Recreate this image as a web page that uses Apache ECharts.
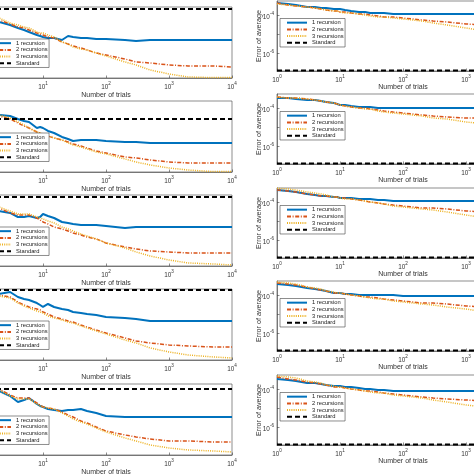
<!DOCTYPE html>
<html><head><meta charset="utf-8">
<script src="https://cdn.jsdelivr.net/npm/echarts@6/dist/echarts.min.js"></script>
<style>html,body{margin:0;padding:0;background:#fff}#c{width:474px;height:474px}</style>
</head><body><div id="c"></div>
<script>
// ---------------- data ----------------
const trials = [1,1.5,2,3,4,5,6,8,9,10,12,15,20,25,30,40,50,70,100,200,300,500,1000,2000,5000,10000];
const seriesNames = ['1 recursion','2 recursions','3 recursions','Standard'];
const xAxisName = 'Number of trials';
const yAxisName = 'Error of average';
const yLabelExponents = [-4, -6];

// left column
const L1_rec1 = [1.71e-4,1.34e-4,9.35e-5,6.50e-5,4.52e-5,3.54e-5,2.78e-5,1.93e-5,1.71e-5,1.52e-5,1.34e-5,1.34e-5,1.05e-5,1.71e-5,1.52e-5,1.34e-5,1.34e-5,1.19e-5,1.19e-5,1.05e-5,9.35e-6,1.05e-5,1.05e-5,1.05e-5,1.05e-5,1.05e-5];
const L1_rec2 = [1.93e-4,1.52e-4,1.19e-4,7.33e-5,5.10e-5,4.52e-5,3.54e-5,2.46e-5,2.18e-5,1.93e-5,1.52e-5,1.34e-5,8.28e-6,6.50e-6,5.10e-6,4.00e-6,3.14e-6,2.18e-6,1.71e-6,1.05e-6,7.33e-7,6.50e-7,5.10e-7,4.52e-7,4.52e-7,4.00e-7];
const L1_rec3 = [2.18e-4,1.71e-4,1.52e-4,8.28e-5,6.50e-5,5.10e-5,4.52e-5,2.78e-5,2.46e-5,2.46e-5,1.93e-5,1.52e-5,8.28e-6,6.50e-6,4.52e-6,3.54e-6,3.14e-6,2.18e-6,1.52e-6,7.33e-7,5.10e-7,2.78e-7,1.71e-7,1.19e-7,1.1e-7,1.1e-7];

const L2_rec1 = [1.34e-4,1.19e-4,1.05e-4,9.35e-5,6.50e-5,5.10e-5,4.52e-5,2.18e-5,2.46e-5,2.18e-5,1.52e-5,1.19e-5,7.33e-6,5.75e-6,4.52e-6,5.10e-6,5.10e-6,5.10e-6,4.52e-6,4.00e-6,4.00e-6,3.54e-6,3.54e-6,3.54e-6,3.54e-6,3.54e-6];
const L2_rec2 = [1.52e-4,1.19e-4,9.35e-5,6.50e-5,4.00e-5,2.78e-5,2.18e-5,1.34e-5,1.19e-5,1.05e-5,8.28e-6,6.50e-6,5.10e-6,4.00e-6,3.14e-6,2.46e-6,1.93e-6,1.34e-6,1.05e-6,6.50e-7,5.75e-7,4.52e-7,3.54e-7,3.14e-7,3.14e-7,3.14e-7];
const L2_rec3 = [1.52e-4,1.34e-4,1.05e-4,7.33e-5,4.52e-5,3.14e-5,2.18e-5,1.34e-5,1.19e-5,1.05e-5,8.28e-6,6.50e-6,5.10e-6,3.54e-6,2.78e-6,2.18e-6,1.71e-6,1.19e-6,9.35e-7,5.10e-7,3.54e-7,2.46e-7,1.71e-7,1.34e-7,1.1e-7,1.1e-7];

const L3_rec1 = [1.34e-4,1.05e-4,8.28e-5,6.50e-5,4.00e-5,4.00e-5,4.52e-5,3.54e-5,4.00e-5,5.75e-5,4.52e-5,3.54e-5,2.18e-5,1.93e-5,1.71e-5,1.52e-5,1.52e-5,1.52e-5,1.34e-5,1.05e-5,1.19e-5,1.19e-5,1.19e-5,1.19e-5,1.19e-5,1.19e-5];
const L3_rec2 = [1.93e-4,1.52e-4,1.19e-4,6.50e-5,5.10e-5,5.10e-5,5.10e-5,3.54e-5,2.78e-5,2.18e-5,1.71e-5,1.19e-5,9.35e-6,7.33e-6,5.75e-6,4.52e-6,3.54e-6,2.78e-6,1.71e-6,1.05e-6,8.28e-7,6.50e-7,5.75e-7,5.10e-7,5.10e-7,5.10e-7];
const L3_rec3 = [2.18e-4,1.71e-4,1.34e-4,8.28e-5,5.75e-5,5.75e-5,5.75e-5,4.00e-5,3.54e-5,3.14e-5,2.46e-5,1.93e-5,1.19e-5,9.35e-6,7.33e-6,5.10e-6,4.00e-6,2.78e-6,1.71e-6,9.35e-7,5.75e-7,3.54e-7,2.18e-7,1.52e-7,1.34e-7,1.19e-7];

const L4_rec1 = [2.46e-4,2.78e-4,3.14e-4,4.00e-4,2.18e-4,1.71e-4,1.52e-4,1.05e-4,8.28e-5,6.50e-5,9.35e-5,6.50e-5,5.10e-5,4.52e-5,3.54e-5,3.14e-5,2.78e-5,2.46e-5,1.93e-5,1.71e-5,1.52e-5,1.19e-5,1.19e-5,1.19e-5,1.19e-5,1.19e-5];
const L4_rec2 = [3.14e-4,3.14e-4,2.78e-4,2.18e-4,1.19e-4,8.28e-5,6.50e-5,5.10e-5,4.52e-5,3.54e-5,2.78e-5,1.93e-5,1.52e-5,1.19e-5,1.05e-5,7.33e-6,5.75e-6,4.00e-6,2.78e-6,1.52e-6,1.05e-6,8.28e-7,6.50e-7,5.75e-7,5.10e-7,5.10e-7];
const L4_rec3 = [3.14e-4,2.78e-4,2.46e-4,1.93e-4,1.05e-4,7.33e-5,5.75e-5,4.00e-5,3.54e-5,3.14e-5,2.18e-5,1.71e-5,1.34e-5,1.05e-5,9.35e-6,6.50e-6,5.10e-6,3.54e-6,2.46e-6,1.19e-6,8.28e-7,4.52e-7,2.78e-7,1.93e-7,1.52e-7,1.34e-7];

const L5_rec1 = [3.54e-4,3.14e-4,2.46e-4,1.34e-4,6.50e-5,8.28e-5,1.05e-4,5.10e-5,4.00e-5,3.54e-5,2.78e-5,2.46e-5,2.18e-5,2.46e-5,2.46e-5,2.78e-5,2.18e-5,1.71e-5,1.19e-5,1.05e-5,1.05e-5,1.05e-5,1.05e-5,1.05e-5,1.05e-5,1.05e-5];
const L5_rec2 = [4.00e-4,3.54e-4,3.14e-4,1.52e-4,1.05e-4,1.05e-4,1.05e-4,5.75e-5,4.52e-5,3.54e-5,3.14e-5,2.78e-5,1.93e-5,1.34e-5,1.05e-5,6.50e-6,5.10e-6,3.14e-6,1.93e-6,1.19e-6,9.35e-7,7.33e-7,5.75e-7,5.75e-7,5.10e-7,5.10e-7];
const L5_rec3 = [4.00e-4,3.54e-4,2.78e-4,1.34e-4,9.35e-5,9.35e-5,9.35e-5,5.10e-5,4.00e-5,3.54e-5,3.14e-5,2.78e-5,1.71e-5,1.19e-5,8.28e-6,5.75e-6,4.52e-6,2.78e-6,1.71e-6,8.28e-7,5.75e-7,3.54e-7,2.46e-7,1.93e-7,1.71e-7,1.52e-7];

const leftStandard = [4.52e-4, 6.50e-5, 4.52e-4, 5.10e-4, 3.14e-4];

// right column
const R1_rec1 = [4.52e-4,4.00e-4,3.54e-4,2.78e-4,2.78e-4,2.46e-4,2.46e-4,2.18e-4,2.18e-4,2.18e-4,1.93e-4,1.71e-4,1.52e-4,1.52e-4,1.34e-4,1.34e-4,1.34e-4,1.19e-4,1.19e-4,1.19e-4,1.19e-4,1.19e-4,1.19e-4,1.19e-4,1.19e-4,1.19e-4];
const R1_rec2 = [4.52e-4,3.54e-4,3.14e-4,2.78e-4,2.46e-4,2.18e-4,1.93e-4,1.71e-4,1.71e-4,1.52e-4,1.52e-4,1.34e-4,1.19e-4,1.19e-4,1.05e-4,9.35e-5,8.28e-5,8.28e-5,7.33e-5,5.75e-5,5.10e-5,4.52e-5,3.54e-5,3.14e-5,2.78e-5,2.46e-5];
const R1_rec3 = [4.00e-4,3.54e-4,3.14e-4,2.78e-4,2.46e-4,2.18e-4,1.93e-4,1.71e-4,1.71e-4,1.52e-4,1.34e-4,1.34e-4,1.19e-4,1.05e-4,9.35e-5,8.28e-5,8.28e-5,7.33e-5,6.50e-5,5.10e-5,4.00e-5,3.14e-5,2.18e-5,1.52e-5,1.19e-5,1.05e-5];

const R2_rec1 = [3.54e-4,3.54e-4,3.14e-4,2.78e-4,2.78e-4,2.46e-4,2.18e-4,1.93e-4,1.71e-4,1.52e-4,1.52e-4,1.34e-4,1.19e-4,1.19e-4,1.19e-4,1.05e-4,1.05e-4,1.05e-4,1.05e-4,1.05e-4,1.05e-4,1.05e-4,1.05e-4,1.05e-4,1.05e-4,1.05e-4];
const R2_rec2 = [4.00e-4,3.54e-4,3.54e-4,3.14e-4,2.78e-4,2.46e-4,2.18e-4,1.93e-4,1.71e-4,1.52e-4,1.34e-4,1.19e-4,1.05e-4,1.05e-4,9.35e-5,8.28e-5,7.33e-5,6.50e-5,5.75e-5,4.52e-5,4.00e-5,3.54e-5,3.14e-5,3.14e-5,2.78e-5,2.78e-5];
const R2_rec3 = [4.00e-4,3.54e-4,3.54e-4,3.14e-4,2.78e-4,2.46e-4,2.18e-4,1.93e-4,1.71e-4,1.52e-4,1.34e-4,1.19e-4,1.05e-4,9.35e-5,9.35e-5,7.33e-5,6.50e-5,5.75e-5,5.10e-5,4.00e-5,3.14e-5,2.78e-5,1.93e-5,1.52e-5,1.19e-5,1.05e-5];

const R3_rec1 = [4.52e-4,4.00e-4,3.54e-4,2.78e-4,2.46e-4,2.18e-4,2.18e-4,1.93e-4,1.93e-4,1.71e-4,1.71e-4,1.71e-4,1.52e-4,1.52e-4,1.52e-4,1.34e-4,1.34e-4,1.19e-4,1.19e-4,1.19e-4,1.19e-4,1.19e-4,1.19e-4,1.19e-4,1.19e-4,1.19e-4];
const R3_rec2 = [4.52e-4,4.00e-4,3.54e-4,2.78e-4,2.46e-4,2.18e-4,2.18e-4,1.93e-4,1.93e-4,1.71e-4,1.71e-4,1.52e-4,1.34e-4,1.19e-4,1.05e-4,9.35e-5,8.28e-5,7.33e-5,6.50e-5,5.10e-5,5.10e-5,4.52e-5,3.54e-5,3.14e-5,2.78e-5,2.78e-5];
const R3_rec3 = [5.6e-4,5.10e-4,4.52e-4,3.54e-4,3.14e-4,2.78e-4,2.46e-4,1.93e-4,1.93e-4,1.71e-4,1.52e-4,1.52e-4,1.34e-4,1.19e-4,1.05e-4,9.35e-5,8.28e-5,6.50e-5,5.75e-5,4.52e-5,4.00e-5,3.14e-5,2.18e-5,1.52e-5,1.19e-5,1.05e-5];

const R4_rec1 = [4.00e-4,3.54e-4,3.14e-4,2.46e-4,2.18e-4,1.93e-4,1.71e-4,1.34e-4,1.34e-4,1.34e-4,1.19e-4,1.19e-4,1.05e-4,1.05e-4,1.05e-4,1.05e-4,1.05e-4,1.05e-4,9.35e-5,9.35e-5,9.35e-5,9.35e-5,9.35e-5,9.35e-5,9.35e-5,9.35e-5];
const R4_rec2 = [4.52e-4,4.00e-4,3.54e-4,2.78e-4,2.18e-4,1.93e-4,1.71e-4,1.34e-4,1.34e-4,1.34e-4,1.19e-4,1.05e-4,9.35e-5,8.28e-5,8.28e-5,7.33e-5,6.50e-5,5.75e-5,5.10e-5,4.00e-5,4.00e-5,3.54e-5,2.78e-5,2.46e-5,2.46e-5,2.46e-5];
const R4_rec3 = [5.10e-4,4.52e-4,4.00e-4,2.78e-4,2.46e-4,2.18e-4,1.71e-4,1.52e-4,1.34e-4,1.34e-4,1.19e-4,1.05e-4,9.35e-5,8.28e-5,7.33e-5,6.50e-5,6.50e-5,5.10e-5,4.52e-5,3.54e-5,3.14e-5,2.46e-5,1.93e-5,1.34e-5,1.05e-5,9.35e-6];

const R5_rec1 = [3.54e-4,3.14e-4,2.78e-4,2.18e-4,2.18e-4,1.93e-4,1.71e-4,1.52e-4,1.52e-4,1.52e-4,1.34e-4,1.34e-4,1.19e-4,1.05e-4,1.05e-4,9.35e-5,9.35e-5,8.28e-5,8.28e-5,8.28e-5,8.28e-5,8.28e-5,8.28e-5,8.28e-5,8.28e-5,8.28e-5];
const R5_rec2 = [4.52e-4,3.54e-4,3.14e-4,2.46e-4,2.18e-4,1.93e-4,1.71e-4,1.34e-4,1.34e-4,1.34e-4,1.19e-4,1.05e-4,9.35e-5,8.28e-5,8.28e-5,7.33e-5,6.50e-5,5.75e-5,5.10e-5,4.00e-5,3.54e-5,3.14e-5,2.78e-5,2.46e-5,2.46e-5,2.18e-5];
const R5_rec3 = [5.10e-4,4.52e-4,4.00e-4,2.78e-4,2.46e-4,2.18e-4,1.71e-4,1.52e-4,1.34e-4,1.34e-4,1.19e-4,1.05e-4,9.35e-5,8.28e-5,7.33e-5,6.50e-5,6.50e-5,5.10e-5,4.52e-5,3.54e-5,2.78e-5,2.18e-5,1.52e-5,1.19e-5,9.35e-6,8.28e-6];

const rightStandard = [1.25e-7, 1.25e-7, 1.25e-7, 1.25e-7, 1.25e-7];

// ---------------- layout / style ----------------
const FF = '"Liberation Sans", Arial, Helvetica, sans-serif';
const AX = '#404040';
const TXT = '#333333';
const COLORS = ['#0072BD', '#D95319', '#EDB120', '#000000'];
const STYLES = [
  {width: 2.0, type: 'solid'},
  {width: 1.5, type: [4, 1.6, 1, 1.6]},
  {width: 1.5, type: [1, 1.2]},
  {width: 2.0, type: [5, 3]}
];

const panels = [
  {col: 0, row: 0, lines: [L1_rec1, L1_rec2, L1_rec3], std: leftStandard[0]},
  {col: 0, row: 1, lines: [L2_rec1, L2_rec2, L2_rec3], std: leftStandard[1]},
  {col: 0, row: 2, lines: [L3_rec1, L3_rec2, L3_rec3], std: leftStandard[2]},
  {col: 0, row: 3, lines: [L4_rec1, L4_rec2, L4_rec3], std: leftStandard[3]},
  {col: 0, row: 4, lines: [L5_rec1, L5_rec2, L5_rec3], std: leftStandard[4]},
  {col: 1, row: 0, lines: [R1_rec1, R1_rec2, R1_rec3], std: rightStandard[0]},
  {col: 1, row: 1, lines: [R2_rec1, R2_rec2, R2_rec3], std: rightStandard[1]},
  {col: 1, row: 2, lines: [R3_rec1, R3_rec2, R3_rec3], std: rightStandard[2]},
  {col: 1, row: 3, lines: [R4_rec1, R4_rec2, R4_rec3], std: rightStandard[3]},
  {col: 1, row: 4, lines: [R5_rec1, R5_rec2, R5_rec3], std: rightStandard[4]}
];

const colLeft = [-20, 277];
const colWidth = 252;
const colTops = [[7, 101, 195, 289, 384], [1, 94, 188, 281, 375]];
const colHeight = [71, 70];
const colYMin = [1.05e-7, 1.19e-7];
const yMax = 5.75e-4;
const legendLeft = [-16, 280];
const legendOffset = [32, 17.5];
const xNameGap = [14, 13];

const richLabel = {
  m: {fontSize: 6.4, color: TXT, fontFamily: FF, lineHeight: 9, verticalAlign: 'bottom'},
  s: {fontSize: 4.6, color: TXT, fontFamily: FF, lineHeight: 9, verticalAlign: 'top'}
};

const grid = [], xAxis = [], yAxis = [], series = [], legend = [];
panels.forEach((p, gi) => {
  grid.push({
    left: colLeft[p.col], top: colTops[p.col][p.row], width: colWidth, height: colHeight[p.col],
    show: true, borderColor: AX, borderWidth: 0.6, backgroundColor: '#fff',
    containLabel: false, outerBoundsMode: 'none'
  });
  xAxis.push({
    type: 'log', logBase: 10, gridIndex: gi, min: 1, max: 10000,
    axisLine: {show: true, onZero: false, lineStyle: {color: AX, width: 0.6}},
    axisTick: {show: true, inside: true, length: 2.5, lineStyle: {color: AX, width: 0.6}},
    splitLine: {show: false},
    axisLabel: {
      margin: 3, hideOverlap: false,
      formatter: v => '{m|10}{s|' + Math.round(Math.log10(v)) + '}',
      rich: richLabel
    },
    name: xAxisName, nameLocation: 'middle', nameGap: xNameGap[p.col], nameMoveOverlap: false,
    nameTextStyle: {fontSize: 7, color: TXT, fontFamily: FF}
  });
  yAxis.push({
    type: 'log', logBase: 10, gridIndex: gi, min: colYMin[p.col], max: yMax,
    axisLine: {show: true, onZero: false, lineStyle: {color: AX, width: 0.6}},
    axisTick: {show: true, inside: true, length: 2.5, lineStyle: {color: AX, width: 0.6}},
    splitLine: {show: false},
    axisLabel: {
      margin: 3, showMinLabel: false, showMaxLabel: false,
      formatter: v => {
        const e = Math.round(Math.log10(v));
        if (Math.abs(Math.log10(v) - e) > 0.01) return '';
        return yLabelExponents.indexOf(e) >= 0 ? '{m|10}{s|' + e + '}' : '';
      },
      rich: richLabel
    },
    name: yAxisName, nameLocation: 'middle', nameGap: 14, nameRotate: 90, nameMoveOverlap: false,
    nameTextStyle: {fontSize: 7.2, color: TXT, fontFamily: FF}
  });
  p.lines.forEach((vals, k) => {
    series.push({
      type: 'line', name: seriesNames[k], xAxisIndex: gi, yAxisIndex: gi,
      data: trials.map((n, i) => [n, vals[i]]),
      symbol: 'none', showSymbol: false, smooth: false, clip: true, silent: true,
      color: COLORS[k],
      lineStyle: {color: COLORS[k], width: STYLES[k].width, type: STYLES[k].type}
    });
  });
  series.push({
    type: 'line', name: seriesNames[3], xAxisIndex: gi, yAxisIndex: gi,
    data: [[trials[0], p.std], [trials[trials.length - 1], p.std]],
    symbol: 'none', showSymbol: false, clip: true, silent: true,
    color: COLORS[3],
    lineStyle: {color: COLORS[3], width: STYLES[3].width, type: STYLES[3].type}
  });
  legend.push({
    show: true, orient: 'vertical',
    left: legendLeft[p.col], top: colTops[p.col][p.row] + legendOffset[p.col],
    itemWidth: 20, itemHeight: 8.4, itemGap: 0,
    padding: [0.8, 1.5, 0.8, 6],
    backgroundColor: '#fff', borderColor: AX, borderWidth: 0.6, borderRadius: 0,
    selectedMode: false,
    itemStyle: {opacity: 0, borderWidth: 0},
    textStyle: {fontSize: 5.8, color: '#222', fontFamily: FF},
    data: seriesNames
  });
});

const chart = echarts.init(document.getElementById('c'), null, {renderer: 'canvas'});
chart.setOption({
  animation: false,
  backgroundColor: '#fff',
  grid, xAxis, yAxis, series, legend
});
</script>
</body></html>
